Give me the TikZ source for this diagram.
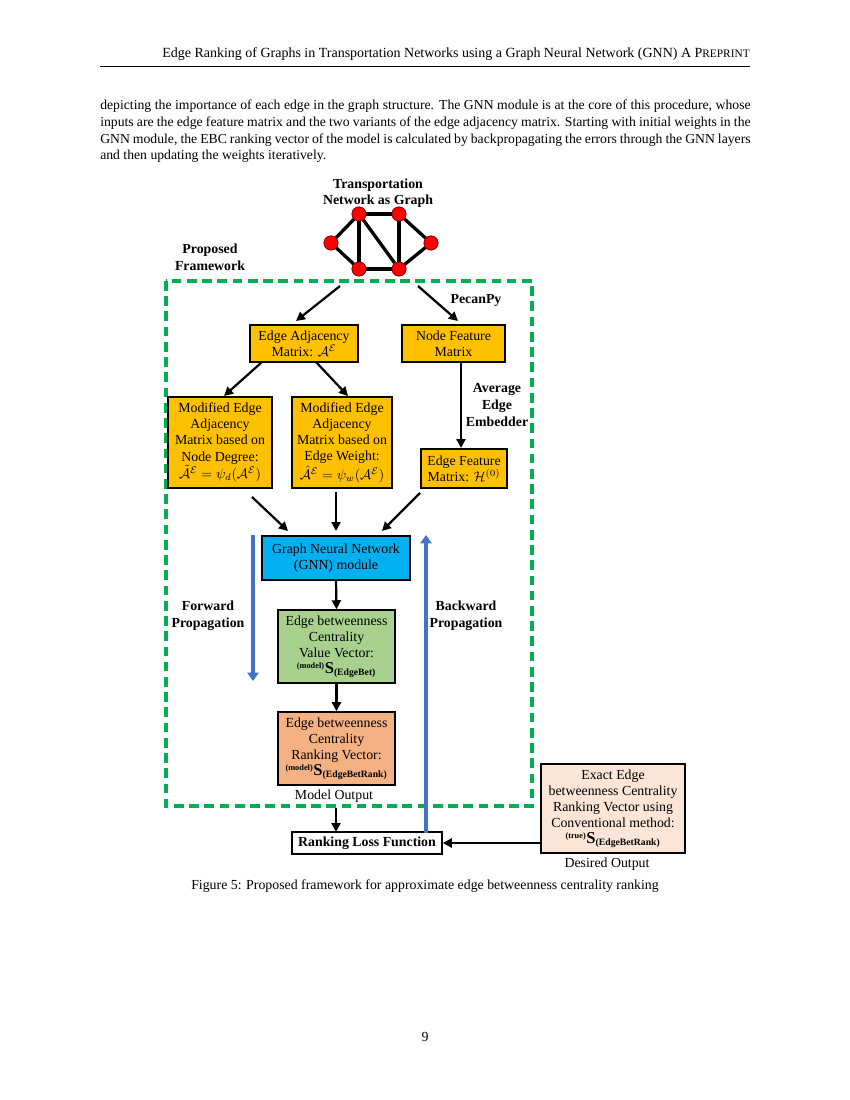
\documentclass[tikz,border=0pt]{standalone}
\usepackage{fontspec}
\setmainfont{Liberation Serif}
\usepackage{amsmath}
\usetikzlibrary{arrows.meta,positioning}

\definecolor{boxorange}{RGB}{255,192,0}
\definecolor{gnnblue}{RGB}{0,176,240}
\definecolor{valgreen}{RGB}{169,209,142}
\definecolor{ranksalmon}{RGB}{244,177,131}
\definecolor{exactpeach}{RGB}{251,229,214}
\definecolor{framegreen}{RGB}{0,176,80}
\definecolor{propblue}{RGB}{68,114,196}

\newcommand{\boxtxt}{\fontsize{10}{11.6}\selectfont}
\newcommand{\lbltxt}{\fontsize{10}{12}\selectfont\bfseries}
\newcommand{\svec}[2]{\textsuperscript{\bfseries\fontsize{6}{7}\selectfont(#1)}{\bfseries\fontsize{12}{12}\selectfont S}\textsubscript{\bfseries\fontsize{7}{8}\selectfont(#2)}}

\tikzset{
  box/.style={draw=black, line width=1.1pt, align=center, inner sep=0pt, font=\boxtxt},
  sz/.style 2 args={minimum width=#1*0.01in, minimum height=#2*0.01in},
  lbl/.style={align=center, inner sep=0pt, font=\lbltxt},
  arr/.style={-{Triangle[length=6.5pt,width=6.5pt]}, line width=1.6pt},
  prop/.style={-{Triangle[length=6pt,width=8pt]}, line width=3.4pt, draw=propblue},
  vert/.style={circle, fill=red, draw=red!55!black, line width=0.5pt, minimum size=0.14in, inner sep=0pt}
}

\begin{document}
\begin{tikzpicture}[x=0.01in,y=-0.01in]
  \fill[white] (0,0) rectangle (850,1100);
  \useasboundingbox (0,0) rectangle (850,1100);

  % page header and text
  \node[anchor=base east, inner sep=0pt, font=\fontsize{10.1}{12}\selectfont] (head) at (750,58)
    {Edge Ranking of Graphs in Transportation Networks using a Graph Neural Network (GNN) A P{\fontsize{8.2}{10}\selectfont REPRINT}};
  \draw[line width=0.4pt] (100,66) -- (750,66);
  \node[anchor=north west, inner sep=0pt, text width=6.5in, align=justify, font=\fontsize{9.9}{12}\selectfont] (para) at (100,100)
    {\spaceskip=0.25em plus 0.15em minus 0.12em
    depicting the importance of each edge in the graph structure. The GNN module is at the core of this procedure, whose\linebreak
    inputs are the edge feature matrix and the two variants of the edge adjacency matrix. Starting with initial weights in the\linebreak
    GNN module, the EBC ranking vector of the model is calculated by backpropagating the errors through the GNN layers\linebreak
    and then updating the weights iteratively.};

  % transportation graph
  \node[lbl] (title) at (378,193) {Transportation\\Network as Graph};
  \draw
    (359,214) node[vert] (v1){}
    (399,214) node[vert] (v2){}
    (331,243) node[vert] (v3){}
    (431,243) node[vert] (v4){}
    (359,269) node[vert] (v5){}
    (399,269) node[vert] (v6){};
  \begin{scope}[line width=2.4pt]
    \draw (v1) to (v2);
    \draw (v1) to (v3);
    \draw (v1) to (v5);
    \draw (v1) to (v6);
    \draw (v2) to (v4);
    \draw (v2) to (v6);
    \draw (v3) to (v5);
    \draw (v4) to (v6);
    \draw (v5) to (v6);
  \end{scope}
  \foreach \v in {v1,v2,v3,v4,v5,v6}
    \node[vert] at (\v) {};

  % framework
  \node[lbl] (framework) at (210,257) {Proposed\\Framework};
  \draw[framegreen, line width=2.2pt, dash pattern=on 7pt off 4pt] (166,281) rectangle (532,806);

  \node[box, sz={108}{37}, fill=boxorange] (ea) at (304,343.5) {Edge Adjacency\\Matrix: $\mathcal{A}^{\mathcal{E}}$};
  \node[box, sz={103}{37}, fill=boxorange] (nf) at (453.5,343.5) {Node Feature\\Matrix};
  \node[box, sz={104}{91}, fill=boxorange] (mod1) at (220,442.5)
    {Modified Edge\\Adjacency\\Matrix based on\\Node Degree:\\[1pt]$\tilde{\mathcal{A}}^{\mathcal{E}}=\psi_d(\mathcal{A}^{\mathcal{E}})$};
  \node[box, sz={100}{91}, fill=boxorange] (mod2) at (342,442.5)
    {Modified Edge\\Adjacency\\Matrix based on\\Edge Weight:\\[1pt]$\hat{\mathcal{A}}^{\mathcal{E}}=\psi_w(\mathcal{A}^{\mathcal{E}})$};
  \node[box, sz={86}{39}, fill=boxorange] (ef) at (464,468.5) {Edge Feature\\Matrix: $\mathcal{H}^{(0)}$};
  \node[box, sz={148}{44}, fill=gnnblue] (gnn) at (336,558) {Graph Neural Network\\(GNN) module};
  \node[box, sz={117}{73}, fill=valgreen] (val) at (336.5,646.5)
    {Edge betweenness\\Centrality\\Value Vector:\\\svec{model}{EdgeBet}};
  \node[box, sz={117}{73}, fill=ranksalmon] (rank) at (336.5,748.5)
    {Edge betweenness\\Centrality\\Ranking Vector:\\\svec{model}{EdgeBetRank}};
  \node[box, sz={150}{22}, fill=white, font=\lbltxt] (loss) at (367,843) {Ranking Loss Function};
  \node[box, sz={144}{89}, fill=exactpeach] (exact) at (613,808.5)
    {Exact Edge\\betweenness Centrality\\Ranking Vector using\\Conventional method:\\\svec{true}{EdgeBetRank}};

  \node[lbl] (pecan) at (476,300) {PecanPy};
  \node[lbl] (embed) at (497,405) {Average\\Edge\\Embedder};
  \node[lbl] (fwd) at (208,616) {Forward\\Propagation};
  \node[lbl] (bwd) at (466,616) {Backward\\Propagation};
  \node[inner sep=0pt, font=\boxtxt] (mout) at (334,796) {Model Output};
  \node[inner sep=0pt, font=\boxtxt] (dout) at (607,864) {Desired Output};

  % connector ends
  \coordinate (g1) at (340,286);
  \coordinate (g2) at (418,286);
  \coordinate (ea1) at (296,321);
  \coordinate (nf1) at (458,321);
  \coordinate (e1) at (262,362);
  \coordinate (e2) at (316,362);
  \coordinate (m1) at (224,396);
  \coordinate (m2) at (348,396);
  \coordinate (n1) at (461,362);
  \coordinate (f1) at (461,448);
  \coordinate (s1) at (252,497);
  \coordinate (s2) at (336,492);
  \coordinate (s3) at (420,493);
  \coordinate (t1) at (288,531);
  \coordinate (t2) at (336,531);
  \coordinate (t3) at (382,531);
  \coordinate (r1) at (336,808);
  \coordinate (r2) at (336,832);
  \coordinate (fw1) at (253,535);
  \coordinate (fw2) at (253,681);
  \coordinate (bw1) at (426,833);
  \coordinate (bw2) at (426,535);

  \begin{scope}[arr]
    \draw (g1) to (ea1);
    \draw (g2) to (nf1);
    \draw (e1) to (m1);
    \draw (e2) to (m2);
    \draw (n1) to (f1);
    \draw (s1) to (t1);
    \draw (s2) to (t2);
    \draw (s3) to (t3);
    \draw (gnn.south) to (val.north);
    \draw (val.south) to (rank.north);
    \draw (r1) to (r2);
    \draw (exact.west |- loss.east) to (loss.east);
  \end{scope}
  \draw[prop] (fw1) -- (fw2);
  \draw[prop] (bw1) -- (bw2);

  % caption and page number
  \node[inner sep=0pt, font=\fontsize{10}{12}\selectfont] (cap) at (425,886)
    {Figure 5: Proposed framework for approximate edge betweenness centrality ranking};
  \node[inner sep=0pt, font=\fontsize{10}{12}\selectfont] (pnum) at (425,1037) {9};
\end{tikzpicture}
\end{document}
